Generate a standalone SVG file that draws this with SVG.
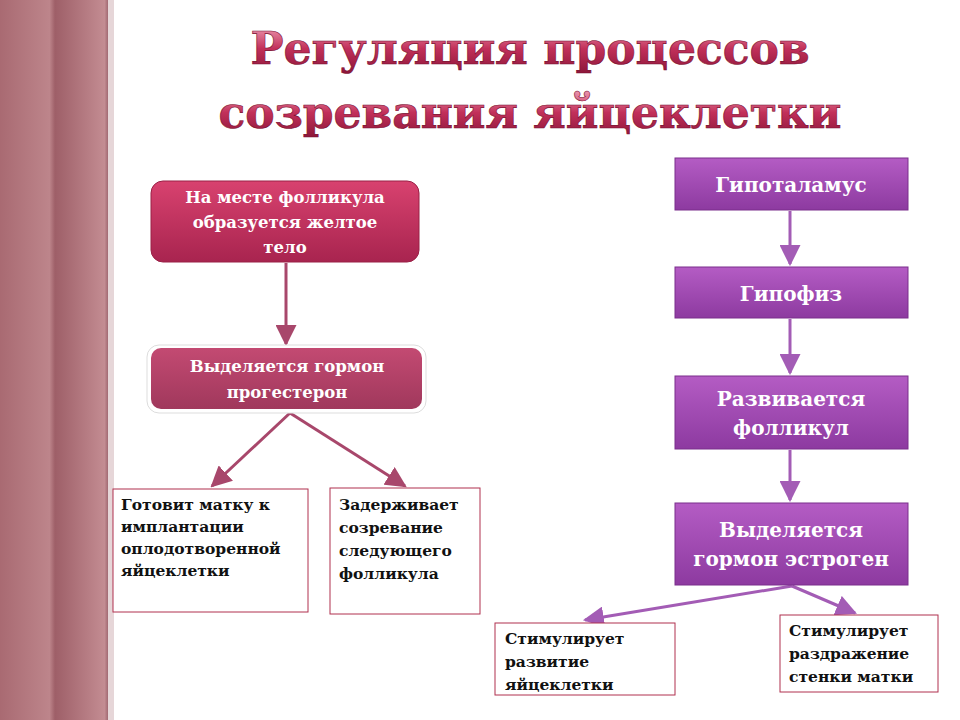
<svg xmlns="http://www.w3.org/2000/svg" width="960" height="720" viewBox="0 0 960 720">
<defs>
<linearGradient id="strip" x1="0" y1="0" x2="1" y2="0">
<stop offset="0" stop-color="#a96a72"/><stop offset="0.45" stop-color="#bd858b"/><stop offset="0.5" stop-color="#9e5f68"/><stop offset="0.95" stop-color="#c38c92"/><stop offset="1" stop-color="#8e5560"/>
</linearGradient>
<linearGradient id="title" x1="0" y1="0" x2="0" y2="1">
<stop offset="0" stop-color="#f3a6bb"/><stop offset="0.5" stop-color="#c2305a"/><stop offset="1" stop-color="#8a1538"/>
</linearGradient>
<linearGradient id="red" x1="0" y1="0" x2="0" y2="1">
<stop offset="0" stop-color="#d8426f"/><stop offset="1" stop-color="#a8244f"/>
</linearGradient>
<linearGradient id="red2" x1="0" y1="0" x2="0" y2="1">
<stop offset="0" stop-color="#c34a72"/><stop offset="1" stop-color="#a0385c"/>
</linearGradient>
<linearGradient id="pur" x1="0" y1="0" x2="0" y2="1">
<stop offset="0" stop-color="#b45cc4"/><stop offset="1" stop-color="#8d3aa0"/>
</linearGradient>
<marker id="ar" viewBox="0 0 10 10" refX="9" refY="5" markerWidth="7" markerHeight="7" orient="auto"><path d="M0,0 L10,5 L0,10 z" fill="#a8476b"/></marker>
<marker id="ap" viewBox="0 0 10 10" refX="9" refY="5" markerWidth="7" markerHeight="7" orient="auto"><path d="M0,0 L10,5 L0,10 z" fill="#a35cb5"/></marker>
</defs>
<style>
.t{font-family:"DejaVu Serif",serif;font-weight:bold;}
.w{fill:#fff;font-size:16.5px;text-anchor:middle}
.wp{fill:#fff;font-size:20px;text-anchor:middle}
.b{fill:#111;font-size:15.5px}
.box{fill:#fff;stroke:#b0304f;stroke-width:1}
.lr{stroke:#a8476b;stroke-width:3;fill:none}
.lp{stroke:#a35cb5;stroke-width:3;fill:none}
</style>
<rect width="960" height="720" fill="#fff"/>
<rect x="0" y="0" width="110" height="720" fill="url(#strip)"/>
<rect x="108" y="0" width="6" height="720" fill="#e6d6d8"/>
<text class="t" x="530" y="64" font-size="44" text-anchor="middle" fill="url(#title)" stroke="#7a1030" stroke-width="0.6">Регуляция процессов</text>
<text class="t" x="530" y="128" font-size="44" text-anchor="middle" fill="url(#title)" stroke="#7a1030" stroke-width="0.6">созревания яйцеклетки</text>
<g id="connectors">
<line class="lr" x1="286" y1="263" x2="286" y2="344" marker-end="url(#ar)"/>
<line class="lr" x1="290" y1="413" x2="212" y2="486" marker-end="url(#ar)"/>
<line class="lr" x1="290" y1="413" x2="405" y2="486" marker-end="url(#ar)"/>
<line class="lp" x1="790" y1="211" x2="790" y2="264" marker-end="url(#ap)"/>
<line class="lp" x1="790" y1="319" x2="790" y2="373" marker-end="url(#ap)"/>
<line class="lp" x1="790" y1="450" x2="790" y2="500" marker-end="url(#ap)"/>
<line class="lp" x1="792" y1="586" x2="585" y2="620" marker-end="url(#ap)"/>
<line class="lp" x1="792" y1="586" x2="855" y2="613" marker-end="url(#ap)"/>
</g>
<g id="n1"><rect x="151" y="181" width="268" height="81" rx="12" fill="url(#red)" stroke="#9a2046"/>
<text class="t w" x="285" y="203">На месте фолликула</text><text class="t w" x="285" y="228">образуется желтое</text><text class="t w" x="285" y="253">тело</text></g>
<g id="n2"><rect x="147" y="345" width="279" height="68" rx="12" fill="#fff" stroke="#ddd"/><rect x="151" y="348" width="271" height="61" rx="10" fill="url(#red2)"/>
<text class="t w" x="287" y="372">Выделяется гормон</text><text class="t w" x="287" y="398">прогестерон</text></g>
<g id="n3"><rect class="box" x="113" y="489" width="195" height="123"/>
<text class="t b" x="121" y="510">Готовит матку к</text><text class="t b" x="121" y="532">имплантации</text><text class="t b" x="121" y="554">оплодотворенной</text><text class="t b" x="121" y="576">яйцеклетки</text></g>
<g id="n4"><rect class="box" x="330" y="488" width="150" height="126"/>
<text class="t b" x="339" y="510">Задерживает</text><text class="t b" x="339" y="533">созревание</text><text class="t b" x="339" y="556">следующего</text><text class="t b" x="339" y="579">фолликула</text></g>
<g id="n5"><rect x="675" y="158" width="233" height="52" fill="url(#pur)" stroke="#7a2f8c"/><text class="t wp" x="791" y="192">Гипоталамус</text></g>
<g id="n6"><rect x="675" y="267" width="233" height="51" fill="url(#pur)" stroke="#7a2f8c"/><text class="t wp" x="791" y="301">Гипофиз</text></g>
<g id="n7"><rect x="675" y="376" width="233" height="73" fill="url(#pur)" stroke="#7a2f8c"/><text class="t wp" x="791" y="406">Развивается</text><text class="t wp" x="791" y="435">фолликул</text></g>
<g id="n8"><rect x="675" y="503" width="233" height="82" fill="url(#pur)" stroke="#7a2f8c"/><text class="t wp" x="791" y="537">Выделяется</text><text class="t wp" x="791" y="566">гормон эстроген</text></g>
<g id="n9"><rect class="box" x="495" y="623" width="180" height="72"/>
<text class="t b" x="505" y="644">Стимулирует</text><text class="t b" x="505" y="667">развитие</text><text class="t b" x="505" y="690">яйцеклетки</text></g>
<g id="n10"><rect class="box" x="780" y="615" width="158" height="77"/>
<text class="t b" x="789" y="636">Стимулирует</text><text class="t b" x="789" y="659">раздражение</text><text class="t b" x="789" y="682">стенки матки</text></g>
</svg>
